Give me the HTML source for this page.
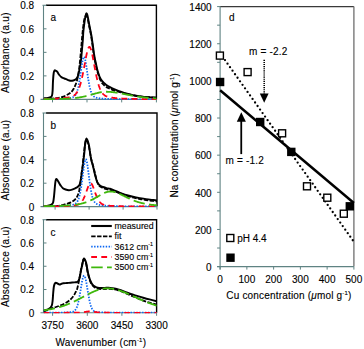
<!DOCTYPE html>
<html><head><meta charset="utf-8"><style>
html,body{margin:0;padding:0;background:#fff;}
svg{display:block;}
text{font-family:"Liberation Sans", sans-serif;fill:#000;stroke:#000;stroke-width:0.12px;}
</style></head><body>
<svg width="364" height="349" viewBox="0 0 364 349">
<rect width="364" height="349" fill="#fff"/>
<clipPath id="clipa"><rect x="43.5" y="4.3" width="112.9" height="95.6"/></clipPath>
<path d="M46 5.3H156.4V99.4" fill="none" stroke="#000" stroke-width="1.4"/>
<path d="M43.5 5.3V99.4" stroke="#5f8383" stroke-width="1.1"/>
<path d="M40.5 99.4H156.4" stroke="#5f8383" stroke-width="1.1"/>
<path d="M42.5 5.3H46.5" stroke="#5f8383" stroke-width="1.1"/>
<path d="M43.5 75.88H46.5" stroke="#5f8383" stroke-width="1"/>
<path d="M43.5 52.35H46.5" stroke="#5f8383" stroke-width="1"/>
<path d="M43.5 28.82H46.5" stroke="#5f8383" stroke-width="1"/>
<path d="M156.4 99.4V102.4" stroke="#5f8383" stroke-width="1"/>
<path d="M52.5 99.4V102.4" stroke="#5f8383" stroke-width="1"/>
<path d="M87 99.4V102.4" stroke="#5f8383" stroke-width="1"/>
<path d="M121.7 99.4V102.4" stroke="#5f8383" stroke-width="1"/>
<text x="34.2" y="103.3" font-size="10" text-anchor="end">0</text>
<text x="34.2" y="79.78" font-size="10" text-anchor="end">0.2</text>
<text x="34.2" y="56.25" font-size="10" text-anchor="end">0.4</text>
<text x="34.2" y="32.72" font-size="10" text-anchor="end">0.6</text>
<text x="34.2" y="9.2" font-size="10" text-anchor="end">0.8</text>
<text transform="translate(9.1 52.75) rotate(-90)" font-size="10" text-anchor="middle" textLength="80.5" lengthAdjust="spacing">Absorbance (a.u)</text>
<text x="50.4" y="21.2" font-size="10" text-anchor="start">a</text>
<g clip-path="url(#clipa)" fill="none">
<path d="M43.6 98.4C44.33 98.33 46.8 98.2 48 98C49.2 97.8 50.13 97.62 50.8 97.2C51.47 96.78 51.7 96.53 52 95.5C52.3 94.47 52.43 93.42 52.6 91C52.77 88.58 52.82 84 53 81C53.18 78 53.43 74.78 53.7 73C53.97 71.22 54.25 70.67 54.6 70.3C54.95 69.93 55.35 70.53 55.8 70.8C56.25 71.07 56.72 71.2 57.3 71.9C57.88 72.6 58.62 74.13 59.3 75C59.98 75.87 60.53 76.52 61.4 77.1C62.27 77.68 63.47 78.03 64.5 78.5C65.53 78.97 66.65 79.52 67.6 79.9C68.55 80.28 69.25 80.7 70.2 80.8C71.15 80.9 72.35 80.75 73.3 80.5C74.25 80.25 75.18 79.88 75.9 79.3C76.62 78.72 77.1 78.17 77.6 77C78.1 75.83 78.5 73.95 78.9 72.3C79.3 70.65 79.68 68.82 80 67.1C80.32 65.38 80.55 64.02 80.8 62C81.05 59.98 81.27 57.5 81.5 55C81.73 52.5 81.97 49.67 82.2 47C82.43 44.33 82.72 41.5 82.9 39C83.08 36.5 83.12 34.17 83.3 32C83.48 29.83 83.77 27.92 84 26C84.23 24.08 84.43 22.17 84.7 20.5C84.97 18.83 85.33 17.18 85.6 16C85.87 14.82 86.03 13.65 86.3 13.4C86.57 13.15 86.9 13.65 87.2 14.5C87.5 15.35 87.77 16.83 88.1 18.5C88.43 20.17 88.83 22.58 89.2 24.5C89.57 26.42 89.95 28.25 90.3 30C90.65 31.75 90.98 33.17 91.3 35C91.62 36.83 91.88 38.83 92.2 41C92.52 43.17 92.9 45.83 93.2 48C93.5 50.17 93.72 52.17 94 54C94.28 55.83 94.58 57.42 94.9 59C95.22 60.58 95.53 61.83 95.9 63.5C96.27 65.17 96.67 67.28 97.1 69C97.53 70.72 98.02 72.33 98.5 73.8C98.98 75.27 99.42 76.62 100 77.8C100.58 78.98 101.33 80.03 102 80.9C102.67 81.77 103.33 82.37 104 83C104.67 83.63 105 84 106 84.7C107 85.4 108.65 86.45 110 87.2C111.35 87.95 112.6 88.53 114.1 89.2C115.6 89.87 117.33 90.58 119 91.2C120.67 91.82 122.27 92.35 124.1 92.9C125.93 93.45 128 94.02 130 94.5C132 94.98 134.1 95.43 136.1 95.8C138.1 96.17 139.98 96.47 142 96.7C144.02 96.93 145.8 97.02 148.2 97.2C150.6 97.38 155.03 97.7 156.4 97.8" stroke="#000" stroke-width="1.95" stroke-linejoin="round"/>
<path d="M43.6 98.9C44.67 98.85 48.27 98.7 50 98.6C51.73 98.5 52.62 98.42 54 98.3C55.38 98.18 56.72 98.18 58.3 97.9C59.88 97.62 61.78 97.25 63.5 96.6C65.22 95.95 67.27 94.8 68.6 94C69.93 93.2 70.63 92.72 71.5 91.8C72.37 90.88 73.12 89.72 73.8 88.5C74.48 87.28 75.08 85.75 75.6 84.5C76.12 83.25 76.5 82.5 76.9 81C77.3 79.5 77.67 77.25 78 75.5C78.33 73.75 78.63 72.25 78.9 70.5C79.17 68.75 79.37 67.08 79.6 65C79.83 62.92 80.07 60.5 80.3 58C80.53 55.5 80.77 52.67 81 50C81.23 47.33 81.47 44.67 81.7 42C81.93 39.33 82.17 36.42 82.4 34C82.63 31.58 82.85 29.58 83.1 27.5C83.35 25.42 83.62 23.17 83.9 21.5C84.18 19.83 84.48 18.45 84.8 17.5C85.12 16.55 85.47 16.02 85.8 15.8C86.13 15.58 86.47 15.67 86.8 16.2C87.13 16.73 87.47 17.62 87.8 19C88.13 20.38 88.43 22.67 88.8 24.5C89.17 26.33 89.63 28.25 90 30C90.37 31.75 90.68 33.17 91 35C91.32 36.83 91.58 38.83 91.9 41C92.22 43.17 92.6 45.83 92.9 48C93.2 50.17 93.42 52.08 93.7 54C93.98 55.92 94.27 57.75 94.6 59.5C94.93 61.25 95.3 62.75 95.7 64.5C96.1 66.25 96.5 68.17 97 70C97.5 71.83 98.15 73.83 98.7 75.5C99.25 77.17 99.75 78.75 100.3 80C100.85 81.25 101.38 82.17 102 83C102.62 83.83 103.33 84.38 104 85C104.67 85.62 105.33 86.22 106 86.7C106.67 87.18 107.27 87.53 108 87.9C108.73 88.27 109.4 88.47 110.4 88.9C111.4 89.33 112.57 89.98 114 90.5C115.43 91.02 117.33 91.52 119 92C120.67 92.48 122.17 92.95 124 93.4C125.83 93.85 128 94.3 130 94.7C132 95.1 134 95.48 136 95.8C138 96.12 140 96.38 142 96.6C144 96.82 145.6 96.9 148 97.1C150.4 97.3 155 97.68 156.4 97.8" stroke="#000" stroke-width="1.8" stroke-dasharray="4.4 1.5"/>
<path d="M43.6 99.23 L44 99.22 L44.4 99.22 L44.8 99.22 L45.2 99.21 L45.6 99.21 L46 99.2 L46.4 99.2 L46.8 99.2 L47.2 99.19 L47.6 99.19 L48 99.18 L48.4 99.18 L48.8 99.17 L49.2 99.17 L49.6 99.16 L50 99.16 L50.4 99.15 L50.8 99.14 L51.2 99.14 L51.6 99.13 L52 99.12 L52.4 99.12 L52.8 99.11 L53.2 99.1 L53.6 99.1 L54 99.09 L54.4 99.08 L54.8 99.07 L55.2 99.06 L55.6 99.05 L56 99.04 L56.4 99.03 L56.8 99.02 L57.2 99.01 L57.6 99 L58 98.99 L58.4 98.97 L58.8 98.96 L59.2 98.95 L59.6 98.93 L60 98.92 L60.4 98.9 L60.8 98.88 L61.2 98.87 L61.6 98.85 L62 98.83 L62.4 98.81 L62.8 98.79 L63.2 98.76 L63.6 98.74 L64 98.71 L64.4 98.69 L64.8 98.66 L65.2 98.63 L65.6 98.59 L66 98.56 L66.4 98.52 L66.8 98.48 L67.2 98.44 L67.6 98.4 L68 98.35 L68.4 98.3 L68.8 98.24 L69.2 98.18 L69.6 98.12 L70 98.05 L70.4 97.97 L70.8 97.88 L71.2 97.79 L71.6 97.68 L72 97.55 L72.4 97.41 L72.8 97.24 L73.2 97.05 L73.6 96.81 L74 96.54 L74.4 96.2 L74.8 95.8 L75.2 95.31 L75.6 94.73 L76 94.03 L76.4 93.2 L76.8 92.22 L77.2 91.06 L77.6 89.72 L78 88.19 L78.4 86.45 L78.8 84.49 L79.2 82.34 L79.6 79.99 L80 77.47 L80.4 74.81 L80.8 72.07 L81.2 69.29 L81.6 66.57 L82 63.98 L82.4 61.63 L82.8 59.64 L83.2 58.11 L83.6 57.15 L84 56.82 L84.4 57.15 L84.8 58.11 L85.2 59.64 L85.6 61.63 L86 63.98 L86.4 66.57 L86.8 69.29 L87.2 72.07 L87.6 74.81 L88 77.47 L88.4 79.99 L88.8 82.34 L89.2 84.49 L89.6 86.45 L90 88.19 L90.4 89.72 L90.8 91.06 L91.2 92.22 L91.6 93.2 L92 94.03 L92.4 94.73 L92.8 95.31 L93.2 95.8 L93.6 96.2 L94 96.54 L94.4 96.81 L94.8 97.05 L95.2 97.24 L95.6 97.41 L96 97.55 L96.4 97.68 L96.8 97.79 L97.2 97.88 L97.6 97.97 L98 98.05 L98.4 98.12 L98.8 98.18 L99.2 98.24 L99.6 98.3 L100 98.35 L100.4 98.4 L100.8 98.44 L101.2 98.48 L101.6 98.52 L102 98.56 L102.4 98.59 L102.8 98.63 L103.2 98.66 L103.6 98.69 L104 98.71 L104.4 98.74 L104.8 98.76 L105.2 98.79 L105.6 98.81 L106 98.83 L106.4 98.85 L106.8 98.87 L107.2 98.88 L107.6 98.9 L108 98.92 L108.4 98.93 L108.8 98.95 L109.2 98.96 L109.6 98.97 L110 98.99 L110.4 99 L110.8 99.01 L111.2 99.02 L111.6 99.03 L112 99.04 L112.4 99.05 L112.8 99.06 L113.2 99.07 L113.6 99.08 L114 99.09 L114.4 99.1 L114.8 99.1 L115.2 99.11 L115.6 99.12 L116 99.12 L116.4 99.13 L116.8 99.14 L117.2 99.14 L117.6 99.15 L118 99.16 L118.4 99.16 L118.8 99.17 L119.2 99.17 L119.6 99.18 L120 99.18 L120.4 99.19 L120.8 99.19 L121.2 99.2 L121.6 99.2 L122 99.2 L122.4 99.21 L122.8 99.21 L123.2 99.22 L123.6 99.22 L124 99.22 L124.4 99.23 L124.8 99.23 L125.2 99.23 L125.6 99.24 L126 99.24 L126.4 99.24 L126.8 99.25 L127.2 99.25 L127.6 99.25 L128 99.25 L128.4 99.26 L128.8 99.26 L129.2 99.26 L129.6 99.26 L130 99.27 L130.4 99.27 L130.8 99.27 L131.2 99.27 L131.6 99.27 L132 99.28 L132.4 99.28 L132.8 99.28 L133.2 99.28 L133.6 99.28 L134 99.29 L134.4 99.29 L134.8 99.29 L135.2 99.29 L135.6 99.29 L136 99.29 L136.4 99.3 L136.8 99.3 L137.2 99.3 L137.6 99.3 L138 99.3 L138.4 99.3 L138.8 99.31 L139.2 99.31 L139.6 99.31 L140 99.31 L140.4 99.31 L140.8 99.31 L141.2 99.31 L141.6 99.31 L142 99.32 L142.4 99.32 L142.8 99.32 L143.2 99.32 L143.6 99.32 L144 99.32 L144.4 99.32 L144.8 99.32 L145.2 99.32 L145.6 99.32 L146 99.33 L146.4 99.33 L146.8 99.33 L147.2 99.33 L147.6 99.33 L148 99.33 L148.4 99.33 L148.8 99.33 L149.2 99.33 L149.6 99.33 L150 99.33 L150.4 99.34 L150.8 99.34 L151.2 99.34 L151.6 99.34 L152 99.34 L152.4 99.34 L152.8 99.34 L153.2 99.34 L153.6 99.34 L154 99.34 L154.4 99.34 L154.8 99.34 L155.2 99.34 L155.6 99.34 L156 99.34 L156.4 99.35 L156.8 99.35" stroke="#0a66f2" stroke-width="1.8" stroke-dasharray="1.45 1.45"/>
<path d="M43.6 98.95 L44 98.94 L44.4 98.93 L44.8 98.92 L45.2 98.92 L45.6 98.91 L46 98.9 L46.4 98.89 L46.8 98.88 L47.2 98.87 L47.6 98.86 L48 98.85 L48.4 98.84 L48.8 98.83 L49.2 98.82 L49.6 98.8 L50 98.79 L50.4 98.78 L50.8 98.77 L51.2 98.76 L51.6 98.74 L52 98.73 L52.4 98.71 L52.8 98.7 L53.2 98.68 L53.6 98.67 L54 98.65 L54.4 98.64 L54.8 98.62 L55.2 98.6 L55.6 98.58 L56 98.56 L56.4 98.54 L56.8 98.52 L57.2 98.5 L57.6 98.48 L58 98.46 L58.4 98.43 L58.8 98.41 L59.2 98.39 L59.6 98.36 L60 98.33 L60.4 98.3 L60.8 98.27 L61.2 98.24 L61.6 98.21 L62 98.18 L62.4 98.14 L62.8 98.11 L63.2 98.07 L63.6 98.03 L64 97.99 L64.4 97.95 L64.8 97.9 L65.2 97.86 L65.6 97.81 L66 97.75 L66.4 97.7 L66.8 97.64 L67.2 97.58 L67.6 97.52 L68 97.45 L68.4 97.38 L68.8 97.3 L69.2 97.22 L69.6 97.13 L70 97.03 L70.4 96.93 L70.8 96.82 L71.2 96.7 L71.6 96.56 L72 96.41 L72.4 96.25 L72.8 96.07 L73.2 95.87 L73.6 95.65 L74 95.4 L74.4 95.12 L74.8 94.81 L75.2 94.46 L75.6 94.07 L76 93.63 L76.4 93.14 L76.8 92.59 L77.2 91.98 L77.6 91.3 L78 90.54 L78.4 89.71 L78.8 88.78 L79.2 87.77 L79.6 86.66 L80 85.45 L80.4 84.14 L80.8 82.73 L81.2 81.22 L81.6 79.6 L82 77.88 L82.4 76.06 L82.8 74.15 L83.2 72.17 L83.6 70.11 L84 67.99 L84.4 65.84 L84.8 63.67 L85.2 61.49 L85.6 59.35 L86 57.26 L86.4 55.27 L86.8 53.4 L87.2 51.7 L87.6 50.21 L88 48.96 L88.4 47.99 L88.8 47.32 L89.2 46.98 L89.6 46.98 L90 47.32 L90.4 47.99 L90.8 48.96 L91.2 50.21 L91.6 51.7 L92 53.4 L92.4 55.27 L92.8 57.26 L93.2 59.35 L93.6 61.49 L94 63.67 L94.4 65.84 L94.8 67.99 L95.2 70.11 L95.6 72.17 L96 74.15 L96.4 76.06 L96.8 77.88 L97.2 79.6 L97.6 81.22 L98 82.73 L98.4 84.14 L98.8 85.45 L99.2 86.66 L99.6 87.77 L100 88.78 L100.4 89.71 L100.8 90.54 L101.2 91.3 L101.6 91.98 L102 92.59 L102.4 93.14 L102.8 93.63 L103.2 94.07 L103.6 94.46 L104 94.81 L104.4 95.12 L104.8 95.4 L105.2 95.65 L105.6 95.87 L106 96.07 L106.4 96.25 L106.8 96.41 L107.2 96.56 L107.6 96.7 L108 96.82 L108.4 96.93 L108.8 97.03 L109.2 97.13 L109.6 97.22 L110 97.3 L110.4 97.38 L110.8 97.45 L111.2 97.52 L111.6 97.58 L112 97.64 L112.4 97.7 L112.8 97.75 L113.2 97.81 L113.6 97.86 L114 97.9 L114.4 97.95 L114.8 97.99 L115.2 98.03 L115.6 98.07 L116 98.11 L116.4 98.14 L116.8 98.18 L117.2 98.21 L117.6 98.24 L118 98.27 L118.4 98.3 L118.8 98.33 L119.2 98.36 L119.6 98.39 L120 98.41 L120.4 98.43 L120.8 98.46 L121.2 98.48 L121.6 98.5 L122 98.52 L122.4 98.54 L122.8 98.56 L123.2 98.58 L123.6 98.6 L124 98.62 L124.4 98.64 L124.8 98.65 L125.2 98.67 L125.6 98.68 L126 98.7 L126.4 98.71 L126.8 98.73 L127.2 98.74 L127.6 98.76 L128 98.77 L128.4 98.78 L128.8 98.79 L129.2 98.8 L129.6 98.82 L130 98.83 L130.4 98.84 L130.8 98.85 L131.2 98.86 L131.6 98.87 L132 98.88 L132.4 98.89 L132.8 98.9 L133.2 98.91 L133.6 98.92 L134 98.92 L134.4 98.93 L134.8 98.94 L135.2 98.95 L135.6 98.96 L136 98.96 L136.4 98.97 L136.8 98.98 L137.2 98.98 L137.6 98.99 L138 99 L138.4 99 L138.8 99.01 L139.2 99.02 L139.6 99.02 L140 99.03 L140.4 99.03 L140.8 99.04 L141.2 99.05 L141.6 99.05 L142 99.06 L142.4 99.06 L142.8 99.07 L143.2 99.07 L143.6 99.08 L144 99.08 L144.4 99.08 L144.8 99.09 L145.2 99.09 L145.6 99.1 L146 99.1 L146.4 99.11 L146.8 99.11 L147.2 99.11 L147.6 99.12 L148 99.12 L148.4 99.13 L148.8 99.13 L149.2 99.13 L149.6 99.14 L150 99.14 L150.4 99.14 L150.8 99.15 L151.2 99.15 L151.6 99.15 L152 99.16 L152.4 99.16 L152.8 99.16 L153.2 99.16 L153.6 99.17 L154 99.17 L154.4 99.17 L154.8 99.18 L155.2 99.18 L155.6 99.18 L156 99.18 L156.4 99.19 L156.8 99.19" stroke="#ff0018" stroke-width="1.8" stroke-dasharray="5.8 4.3"/>
<path d="M43.6 99.16 L44 99.16 L44.4 99.16 L44.8 99.15 L45.2 99.15 L45.6 99.15 L46 99.15 L46.4 99.14 L46.8 99.14 L47.2 99.14 L47.6 99.13 L48 99.13 L48.4 99.12 L48.8 99.12 L49.2 99.12 L49.6 99.11 L50 99.11 L50.4 99.1 L50.8 99.1 L51.2 99.09 L51.6 99.09 L52 99.09 L52.4 99.08 L52.8 99.08 L53.2 99.07 L53.6 99.06 L54 99.06 L54.4 99.05 L54.8 99.05 L55.2 99.04 L55.6 99.03 L56 99.03 L56.4 99.02 L56.8 99.01 L57.2 99.01 L57.6 99 L58 98.99 L58.4 98.98 L58.8 98.97 L59.2 98.96 L59.6 98.95 L60 98.94 L60.4 98.93 L60.8 98.92 L61.2 98.91 L61.6 98.9 L62 98.89 L62.4 98.88 L62.8 98.86 L63.2 98.85 L63.6 98.83 L64 98.82 L64.4 98.8 L64.8 98.79 L65.2 98.77 L65.6 98.75 L66 98.74 L66.4 98.72 L66.8 98.7 L67.2 98.68 L67.6 98.65 L68 98.63 L68.4 98.61 L68.8 98.58 L69.2 98.56 L69.6 98.53 L70 98.5 L70.4 98.47 L70.8 98.44 L71.2 98.41 L71.6 98.38 L72 98.34 L72.4 98.31 L72.8 98.27 L73.2 98.23 L73.6 98.19 L74 98.15 L74.4 98.11 L74.8 98.06 L75.2 98.02 L75.6 97.97 L76 97.92 L76.4 97.87 L76.8 97.82 L77.2 97.76 L77.6 97.71 L78 97.65 L78.4 97.59 L78.8 97.53 L79.2 97.46 L79.6 97.4 L80 97.33 L80.4 97.26 L80.8 97.19 L81.2 97.11 L81.6 97.04 L82 96.96 L82.4 96.88 L82.8 96.8 L83.2 96.72 L83.6 96.63 L84 96.54 L84.4 96.46 L84.8 96.37 L85.2 96.27 L85.6 96.18 L86 96.08 L86.4 95.98 L86.8 95.88 L87.2 95.78 L87.6 95.68 L88 95.58 L88.4 95.47 L88.8 95.37 L89.2 95.26 L89.6 95.15 L90 95.04 L90.4 94.93 L90.8 94.82 L91.2 94.7 L91.6 94.59 L92 94.48 L92.4 94.36 L92.8 94.25 L93.2 94.14 L93.6 94.02 L94 93.91 L94.4 93.8 L94.8 93.69 L95.2 93.58 L95.6 93.47 L96 93.36 L96.4 93.25 L96.8 93.15 L97.2 93.04 L97.6 92.94 L98 92.85 L98.4 92.75 L98.8 92.66 L99.2 92.57 L99.6 92.48 L100 92.4 L100.4 92.32 L100.8 92.25 L101.2 92.18 L101.6 92.11 L102 92.05 L102.4 92 L102.8 91.95 L103.2 91.9 L103.6 91.86 L104 91.83 L104.4 91.8 L104.8 91.78 L105.2 91.77 L105.6 91.76 L106 91.75 L106.4 91.76 L106.8 91.76 L107.2 91.77 L107.6 91.78 L108 91.79 L108.4 91.81 L108.8 91.83 L109.2 91.85 L109.6 91.87 L110 91.9 L110.4 91.93 L110.8 91.96 L111.2 92 L111.6 92.04 L112 92.08 L112.4 92.12 L112.8 92.16 L113.2 92.21 L113.6 92.26 L114 92.31 L114.4 92.36 L114.8 92.42 L115.2 92.48 L115.6 92.53 L116 92.6 L116.4 92.66 L116.8 92.72 L117.2 92.79 L117.6 92.85 L118 92.92 L118.4 92.99 L118.8 93.06 L119.2 93.13 L119.6 93.2 L120 93.28 L120.4 93.35 L120.8 93.43 L121.2 93.5 L121.6 93.58 L122 93.65 L122.4 93.73 L122.8 93.81 L123.2 93.89 L123.6 93.96 L124 94.04 L124.4 94.12 L124.8 94.2 L125.2 94.28 L125.6 94.36 L126 94.43 L126.4 94.51 L126.8 94.59 L127.2 94.67 L127.6 94.75 L128 94.83 L128.4 94.9 L128.8 94.98 L129.2 95.06 L129.6 95.13 L130 95.21 L130.4 95.28 L130.8 95.36 L131.2 95.43 L131.6 95.5 L132 95.58 L132.4 95.65 L132.8 95.72 L133.2 95.79 L133.6 95.86 L134 95.93 L134.4 96 L134.8 96.07 L135.2 96.13 L135.6 96.2 L136 96.27 L136.4 96.33 L136.8 96.39 L137.2 96.46 L137.6 96.52 L138 96.58 L138.4 96.64 L138.8 96.7 L139.2 96.76 L139.6 96.81 L140 96.87 L140.4 96.92 L140.8 96.98 L141.2 97.03 L141.6 97.09 L142 97.14 L142.4 97.19 L142.8 97.24 L143.2 97.29 L143.6 97.33 L144 97.38 L144.4 97.43 L144.8 97.47 L145.2 97.52 L145.6 97.56 L146 97.6 L146.4 97.64 L146.8 97.68 L147.2 97.72 L147.6 97.76 L148 97.8 L148.4 97.84 L148.8 97.87 L149.2 97.91 L149.6 97.94 L150 97.98 L150.4 98.01 L150.8 98.04 L151.2 98.08 L151.6 98.11 L152 98.14 L152.4 98.16 L152.8 98.19 L153.2 98.22 L153.6 98.25 L154 98.27 L154.4 98.3 L154.8 98.32 L155.2 98.35 L155.6 98.37 L156 98.4 L156.4 98.42 L156.8 98.44" stroke="#3fb80c" stroke-width="1.8" stroke-dasharray="11.5 4.3"/>
</g>
<clipPath id="clipb"><rect x="43.5" y="112" width="113.5" height="95.1"/></clipPath>
<path d="M46 113H157V206.6" fill="none" stroke="#000" stroke-width="1.4"/>
<path d="M43.5 113V206.6" stroke="#5f8383" stroke-width="1.1"/>
<path d="M40.5 206.6H157" stroke="#5f8383" stroke-width="1.1"/>
<path d="M42.5 113H46.5" stroke="#5f8383" stroke-width="1.1"/>
<path d="M43.5 183.2H46.5" stroke="#5f8383" stroke-width="1"/>
<path d="M43.5 159.8H46.5" stroke="#5f8383" stroke-width="1"/>
<path d="M43.5 136.4H46.5" stroke="#5f8383" stroke-width="1"/>
<path d="M157 206.6V209.6" stroke="#5f8383" stroke-width="1"/>
<path d="M55.1 206.6V209.6" stroke="#5f8383" stroke-width="1"/>
<path d="M89.1 206.6V209.6" stroke="#5f8383" stroke-width="1"/>
<path d="M123.1 206.6V209.6" stroke="#5f8383" stroke-width="1"/>
<text x="34.2" y="210.5" font-size="10" text-anchor="end">0</text>
<text x="34.2" y="187.1" font-size="10" text-anchor="end">0.2</text>
<text x="34.2" y="163.7" font-size="10" text-anchor="end">0.4</text>
<text x="34.2" y="140.3" font-size="10" text-anchor="end">0.6</text>
<text x="34.2" y="116.9" font-size="10" text-anchor="end">0.8</text>
<text transform="translate(9.1 160.2) rotate(-90)" font-size="10" text-anchor="middle" textLength="80.5" lengthAdjust="spacing">Absorbance (a.u)</text>
<text x="50.4" y="128.9" font-size="10" text-anchor="start">b</text>
<g clip-path="url(#clipb)" fill="none">
<path d="M43.6 206C44.33 205.93 46.7 205.83 48 205.6C49.3 205.37 50.55 205.12 51.4 204.6C52.25 204.08 52.65 204.02 53.1 202.5C53.55 200.98 53.8 198.17 54.1 195.5C54.4 192.83 54.65 188.98 54.9 186.5C55.15 184.02 55.37 181.87 55.6 180.6C55.83 179.33 56 178.98 56.3 178.9C56.6 178.82 56.93 179.42 57.4 180.1C57.87 180.78 58.55 182.08 59.1 183C59.65 183.92 60.07 184.73 60.7 185.6C61.33 186.47 62.08 187.55 62.9 188.2C63.72 188.85 64.62 189.17 65.6 189.5C66.58 189.83 67.72 190.18 68.8 190.2C69.88 190.22 71 189.93 72.1 189.6C73.2 189.27 74.5 188.63 75.4 188.2C76.3 187.77 76.9 187.43 77.5 187C78.1 186.57 78.62 186.1 79 185.6C79.38 185.1 79.57 184.68 79.8 184C80.03 183.32 80.23 182.25 80.4 181.5C80.57 180.75 80.63 180.42 80.8 179.5C80.97 178.58 81.22 177.25 81.4 176C81.58 174.75 81.73 173.2 81.9 172C82.07 170.8 82.22 169.97 82.4 168.8C82.58 167.63 82.82 166.47 83 165C83.18 163.53 83.32 161.67 83.5 160C83.68 158.33 83.92 156.67 84.1 155C84.28 153.33 84.45 151.58 84.6 150C84.75 148.42 84.83 147 85 145.5C85.17 144 85.35 142.18 85.6 141C85.85 139.82 86.17 138.48 86.5 138.4C86.83 138.32 87.2 139.4 87.6 140.5C88 141.6 88.58 143.58 88.9 145C89.22 146.42 89.25 147.33 89.5 149C89.75 150.67 90.1 153.17 90.4 155C90.7 156.83 90.92 158.33 91.3 160C91.68 161.67 92.27 163.33 92.7 165C93.13 166.67 93.47 168.22 93.9 170C94.33 171.78 94.78 173.78 95.3 175.7C95.82 177.62 96.38 180 97 181.5C97.62 183 98.37 183.95 99 184.7C99.63 185.45 100.13 185.62 100.8 186C101.47 186.38 102.05 186.65 103 187C103.95 187.35 105.33 187.8 106.5 188.1C107.67 188.4 108.75 188.43 110 188.8C111.25 189.17 112.67 189.78 114 190.3C115.33 190.82 116.67 191.35 118 191.9C119.33 192.45 120.33 193 122 193.6C123.67 194.2 126 194.93 128 195.5C130 196.07 132 196.57 134 197C136 197.43 138 197.75 140 198.1C142 198.45 144 198.8 146 199.1C148 199.4 150.17 199.67 152 199.9C153.83 200.13 156.17 200.4 157 200.5" stroke="#000" stroke-width="1.95" stroke-linejoin="round"/>
<path d="M43.6 206.3C44.67 206.28 48.1 206.25 50 206.2C51.9 206.15 53.33 206.08 55 206C56.67 205.92 58.27 206 60 205.7C61.73 205.4 63.58 204.75 65.4 204.2C67.22 203.65 69.27 203.22 70.9 202.4C72.53 201.58 74.12 200.35 75.2 199.3C76.28 198.25 76.77 197.37 77.4 196.1C78.03 194.83 78.62 193.13 79 191.7C79.38 190.27 79.5 188.62 79.7 187.5C79.9 186.38 80.02 186.08 80.2 185C80.38 183.92 80.62 182.42 80.8 181C80.98 179.58 81.15 178 81.3 176.5C81.45 175 81.55 173.25 81.7 172C81.85 170.75 82.03 170.17 82.2 169C82.37 167.83 82.53 166.5 82.7 165C82.87 163.5 83.02 161.67 83.2 160C83.38 158.33 83.62 156.67 83.8 155C83.98 153.33 84.13 151.5 84.3 150C84.47 148.5 84.6 147.33 84.8 146C85 144.67 85.22 143 85.5 142C85.78 141 86.15 140.03 86.5 140C86.85 139.97 87.22 140.8 87.6 141.8C87.98 142.8 88.47 144.63 88.8 146C89.13 147.37 89.32 148.42 89.6 150C89.88 151.58 90.17 153.75 90.5 155.5C90.83 157.25 91.18 158.83 91.6 160.5C92.02 162.17 92.55 163.83 93 165.5C93.45 167.17 93.85 168.67 94.3 170.5C94.75 172.33 95.2 174.53 95.7 176.5C96.2 178.47 96.72 180.75 97.3 182.3C97.88 183.85 98.58 185.02 99.2 185.8C99.82 186.58 100.37 186.63 101 187C101.63 187.37 102.08 187.63 103 188C103.92 188.37 105.33 188.87 106.5 189.2C107.67 189.53 108.75 189.65 110 190C111.25 190.35 112.67 190.87 114 191.3C115.33 191.73 116.67 192.13 118 192.6C119.33 193.07 120.33 193.52 122 194.1C123.67 194.68 126 195.5 128 196.1C130 196.7 132 197.22 134 197.7C136 198.18 138 198.62 140 199C142 199.38 144 199.7 146 200C148 200.3 150.17 200.57 152 200.8C153.83 201.03 156.17 201.3 157 201.4" stroke="#000" stroke-width="1.8" stroke-dasharray="4.4 1.5"/>
<path d="M43.6 206.41 L44 206.41 L44.4 206.4 L44.8 206.4 L45.2 206.4 L45.6 206.39 L46 206.39 L46.4 206.38 L46.8 206.38 L47.2 206.37 L47.6 206.37 L48 206.36 L48.4 206.36 L48.8 206.35 L49.2 206.35 L49.6 206.34 L50 206.34 L50.4 206.33 L50.8 206.33 L51.2 206.32 L51.6 206.31 L52 206.31 L52.4 206.3 L52.8 206.29 L53.2 206.28 L53.6 206.28 L54 206.27 L54.4 206.26 L54.8 206.25 L55.2 206.24 L55.6 206.23 L56 206.22 L56.4 206.21 L56.8 206.2 L57.2 206.19 L57.6 206.18 L58 206.17 L58.4 206.16 L58.8 206.14 L59.2 206.13 L59.6 206.11 L60 206.1 L60.4 206.08 L60.8 206.07 L61.2 206.05 L61.6 206.03 L62 206.01 L62.4 205.99 L62.8 205.97 L63.2 205.95 L63.6 205.93 L64 205.91 L64.4 205.88 L64.8 205.85 L65.2 205.83 L65.6 205.8 L66 205.76 L66.4 205.73 L66.8 205.7 L67.2 205.66 L67.6 205.62 L68 205.57 L68.4 205.53 L68.8 205.48 L69.2 205.43 L69.6 205.37 L70 205.32 L70.4 205.25 L70.8 205.18 L71.2 205.11 L71.6 205.03 L72 204.94 L72.4 204.84 L72.8 204.74 L73.2 204.62 L73.6 204.49 L74 204.34 L74.4 204.17 L74.8 203.97 L75.2 203.74 L75.6 203.47 L76 203.15 L76.4 202.76 L76.8 202.3 L77.2 201.75 L77.6 201.09 L78 200.29 L78.4 199.35 L78.8 198.23 L79.2 196.92 L79.6 195.4 L80 193.66 L80.4 191.68 L80.8 189.46 L81.2 187 L81.6 184.32 L82 181.45 L82.4 178.43 L82.8 175.31 L83.2 172.16 L83.6 169.1 L84 166.22 L84.4 163.66 L84.8 161.57 L85.2 160.09 L85.6 159.31 L86 159.31 L86.4 160.09 L86.8 161.57 L87.2 163.66 L87.6 166.22 L88 169.1 L88.4 172.16 L88.8 175.31 L89.2 178.43 L89.6 181.45 L90 184.32 L90.4 187 L90.8 189.46 L91.2 191.68 L91.6 193.66 L92 195.4 L92.4 196.92 L92.8 198.23 L93.2 199.35 L93.6 200.29 L94 201.09 L94.4 201.75 L94.8 202.3 L95.2 202.76 L95.6 203.15 L96 203.47 L96.4 203.74 L96.8 203.97 L97.2 204.17 L97.6 204.34 L98 204.49 L98.4 204.62 L98.8 204.74 L99.2 204.84 L99.6 204.94 L100 205.03 L100.4 205.11 L100.8 205.18 L101.2 205.25 L101.6 205.32 L102 205.37 L102.4 205.43 L102.8 205.48 L103.2 205.53 L103.6 205.57 L104 205.62 L104.4 205.66 L104.8 205.7 L105.2 205.73 L105.6 205.76 L106 205.8 L106.4 205.83 L106.8 205.85 L107.2 205.88 L107.6 205.91 L108 205.93 L108.4 205.95 L108.8 205.97 L109.2 205.99 L109.6 206.01 L110 206.03 L110.4 206.05 L110.8 206.07 L111.2 206.08 L111.6 206.1 L112 206.11 L112.4 206.13 L112.8 206.14 L113.2 206.16 L113.6 206.17 L114 206.18 L114.4 206.19 L114.8 206.2 L115.2 206.21 L115.6 206.22 L116 206.23 L116.4 206.24 L116.8 206.25 L117.2 206.26 L117.6 206.27 L118 206.28 L118.4 206.28 L118.8 206.29 L119.2 206.3 L119.6 206.31 L120 206.31 L120.4 206.32 L120.8 206.33 L121.2 206.33 L121.6 206.34 L122 206.34 L122.4 206.35 L122.8 206.35 L123.2 206.36 L123.6 206.36 L124 206.37 L124.4 206.37 L124.8 206.38 L125.2 206.38 L125.6 206.39 L126 206.39 L126.4 206.4 L126.8 206.4 L127.2 206.4 L127.6 206.41 L128 206.41 L128.4 206.41 L128.8 206.42 L129.2 206.42 L129.6 206.42 L130 206.43 L130.4 206.43 L130.8 206.43 L131.2 206.44 L131.6 206.44 L132 206.44 L132.4 206.44 L132.8 206.45 L133.2 206.45 L133.6 206.45 L134 206.45 L134.4 206.46 L134.8 206.46 L135.2 206.46 L135.6 206.46 L136 206.47 L136.4 206.47 L136.8 206.47 L137.2 206.47 L137.6 206.47 L138 206.48 L138.4 206.48 L138.8 206.48 L139.2 206.48 L139.6 206.48 L140 206.48 L140.4 206.49 L140.8 206.49 L141.2 206.49 L141.6 206.49 L142 206.49 L142.4 206.49 L142.8 206.5 L143.2 206.5 L143.6 206.5 L144 206.5 L144.4 206.5 L144.8 206.5 L145.2 206.5 L145.6 206.51 L146 206.51 L146.4 206.51 L146.8 206.51 L147.2 206.51 L147.6 206.51 L148 206.51 L148.4 206.51 L148.8 206.51 L149.2 206.52 L149.6 206.52 L150 206.52 L150.4 206.52 L150.8 206.52 L151.2 206.52 L151.6 206.52 L152 206.52 L152.4 206.52 L152.8 206.52 L153.2 206.53 L153.6 206.53 L154 206.53 L154.4 206.53 L154.8 206.53 L155.2 206.53 L155.6 206.53 L156 206.53 L156.4 206.53 L156.8 206.53" stroke="#0a66f2" stroke-width="1.8" stroke-dasharray="1.45 1.45"/>
<path d="M43.6 206.45 L44 206.44 L44.4 206.44 L44.8 206.44 L45.2 206.44 L45.6 206.43 L46 206.43 L46.4 206.43 L46.8 206.42 L47.2 206.42 L47.6 206.42 L48 206.41 L48.4 206.41 L48.8 206.41 L49.2 206.4 L49.6 206.4 L50 206.4 L50.4 206.39 L50.8 206.39 L51.2 206.38 L51.6 206.38 L52 206.38 L52.4 206.37 L52.8 206.37 L53.2 206.36 L53.6 206.36 L54 206.35 L54.4 206.35 L54.8 206.34 L55.2 206.33 L55.6 206.33 L56 206.32 L56.4 206.32 L56.8 206.31 L57.2 206.3 L57.6 206.29 L58 206.29 L58.4 206.28 L58.8 206.27 L59.2 206.26 L59.6 206.26 L60 206.25 L60.4 206.24 L60.8 206.23 L61.2 206.22 L61.6 206.21 L62 206.2 L62.4 206.19 L62.8 206.17 L63.2 206.16 L63.6 206.15 L64 206.14 L64.4 206.12 L64.8 206.11 L65.2 206.09 L65.6 206.08 L66 206.06 L66.4 206.05 L66.8 206.03 L67.2 206.01 L67.6 205.99 L68 205.97 L68.4 205.95 L68.8 205.92 L69.2 205.9 L69.6 205.87 L70 205.85 L70.4 205.82 L70.8 205.79 L71.2 205.76 L71.6 205.72 L72 205.69 L72.4 205.65 L72.8 205.61 L73.2 205.56 L73.6 205.52 L74 205.46 L74.4 205.41 L74.8 205.35 L75.2 205.28 L75.6 205.2 L76 205.12 L76.4 205.02 L76.8 204.92 L77.2 204.8 L77.6 204.67 L78 204.52 L78.4 204.34 L78.8 204.15 L79.2 203.92 L79.6 203.67 L80 203.38 L80.4 203.05 L80.8 202.68 L81.2 202.26 L81.6 201.8 L82 201.27 L82.4 200.69 L82.8 200.05 L83.2 199.35 L83.6 198.58 L84 197.75 L84.4 196.86 L84.8 195.91 L85.2 194.9 L85.6 193.84 L86 192.74 L86.4 191.62 L86.8 190.47 L87.2 189.33 L87.6 188.21 L88 187.14 L88.4 186.14 L88.8 185.24 L89.2 184.47 L89.6 183.86 L90 183.44 L90.4 183.23 L90.8 183.23 L91.2 183.44 L91.6 183.86 L92 184.47 L92.4 185.24 L92.8 186.14 L93.2 187.14 L93.6 188.21 L94 189.33 L94.4 190.47 L94.8 191.62 L95.2 192.74 L95.6 193.84 L96 194.9 L96.4 195.91 L96.8 196.86 L97.2 197.75 L97.6 198.58 L98 199.35 L98.4 200.05 L98.8 200.69 L99.2 201.27 L99.6 201.8 L100 202.26 L100.4 202.68 L100.8 203.05 L101.2 203.38 L101.6 203.67 L102 203.92 L102.4 204.15 L102.8 204.34 L103.2 204.52 L103.6 204.67 L104 204.8 L104.4 204.92 L104.8 205.02 L105.2 205.12 L105.6 205.2 L106 205.28 L106.4 205.35 L106.8 205.41 L107.2 205.46 L107.6 205.52 L108 205.56 L108.4 205.61 L108.8 205.65 L109.2 205.69 L109.6 205.72 L110 205.76 L110.4 205.79 L110.8 205.82 L111.2 205.85 L111.6 205.87 L112 205.9 L112.4 205.92 L112.8 205.95 L113.2 205.97 L113.6 205.99 L114 206.01 L114.4 206.03 L114.8 206.05 L115.2 206.06 L115.6 206.08 L116 206.09 L116.4 206.11 L116.8 206.12 L117.2 206.14 L117.6 206.15 L118 206.16 L118.4 206.17 L118.8 206.19 L119.2 206.2 L119.6 206.21 L120 206.22 L120.4 206.23 L120.8 206.24 L121.2 206.25 L121.6 206.26 L122 206.26 L122.4 206.27 L122.8 206.28 L123.2 206.29 L123.6 206.29 L124 206.3 L124.4 206.31 L124.8 206.32 L125.2 206.32 L125.6 206.33 L126 206.33 L126.4 206.34 L126.8 206.35 L127.2 206.35 L127.6 206.36 L128 206.36 L128.4 206.37 L128.8 206.37 L129.2 206.38 L129.6 206.38 L130 206.38 L130.4 206.39 L130.8 206.39 L131.2 206.4 L131.6 206.4 L132 206.4 L132.4 206.41 L132.8 206.41 L133.2 206.41 L133.6 206.42 L134 206.42 L134.4 206.42 L134.8 206.43 L135.2 206.43 L135.6 206.43 L136 206.44 L136.4 206.44 L136.8 206.44 L137.2 206.44 L137.6 206.45 L138 206.45 L138.4 206.45 L138.8 206.45 L139.2 206.46 L139.6 206.46 L140 206.46 L140.4 206.46 L140.8 206.47 L141.2 206.47 L141.6 206.47 L142 206.47 L142.4 206.47 L142.8 206.48 L143.2 206.48 L143.6 206.48 L144 206.48 L144.4 206.48 L144.8 206.49 L145.2 206.49 L145.6 206.49 L146 206.49 L146.4 206.49 L146.8 206.49 L147.2 206.49 L147.6 206.5 L148 206.5 L148.4 206.5 L148.8 206.5 L149.2 206.5 L149.6 206.5 L150 206.5 L150.4 206.51 L150.8 206.51 L151.2 206.51 L151.6 206.51 L152 206.51 L152.4 206.51 L152.8 206.51 L153.2 206.51 L153.6 206.51 L154 206.52 L154.4 206.52 L154.8 206.52 L155.2 206.52 L155.6 206.52 L156 206.52 L156.4 206.52 L156.8 206.52" stroke="#ff0018" stroke-width="1.8" stroke-dasharray="5.8 4.3"/>
<path d="M43.6 206.14 L44 206.13 L44.4 206.13 L44.8 206.12 L45.2 206.12 L45.6 206.11 L46 206.11 L46.4 206.1 L46.8 206.09 L47.2 206.09 L47.6 206.08 L48 206.08 L48.4 206.07 L48.8 206.06 L49.2 206.06 L49.6 206.05 L50 206.04 L50.4 206.04 L50.8 206.03 L51.2 206.02 L51.6 206.01 L52 206.01 L52.4 206 L52.8 205.99 L53.2 205.98 L53.6 205.97 L54 205.97 L54.4 205.96 L54.8 205.95 L55.2 205.94 L55.6 205.93 L56 205.92 L56.4 205.91 L56.8 205.9 L57.2 205.89 L57.6 205.88 L58 205.87 L58.4 205.86 L58.8 205.85 L59.2 205.83 L59.6 205.82 L60 205.81 L60.4 205.8 L60.8 205.78 L61.2 205.77 L61.6 205.75 L62 205.74 L62.4 205.73 L62.8 205.71 L63.2 205.69 L63.6 205.68 L64 205.66 L64.4 205.64 L64.8 205.62 L65.2 205.6 L65.6 205.58 L66 205.56 L66.4 205.54 L66.8 205.52 L67.2 205.5 L67.6 205.47 L68 205.45 L68.4 205.42 L68.8 205.39 L69.2 205.37 L69.6 205.34 L70 205.31 L70.4 205.27 L70.8 205.24 L71.2 205.21 L71.6 205.17 L72 205.13 L72.4 205.1 L72.8 205.05 L73.2 205.01 L73.6 204.97 L74 204.92 L74.4 204.87 L74.8 204.82 L75.2 204.77 L75.6 204.72 L76 204.66 L76.4 204.6 L76.8 204.54 L77.2 204.48 L77.6 204.41 L78 204.34 L78.4 204.27 L78.8 204.2 L79.2 204.12 L79.6 204.04 L80 203.96 L80.4 203.87 L80.8 203.78 L81.2 203.69 L81.6 203.59 L82 203.49 L82.4 203.39 L82.8 203.28 L83.2 203.17 L83.6 203.06 L84 202.94 L84.4 202.82 L84.8 202.69 L85.2 202.56 L85.6 202.43 L86 202.29 L86.4 202.15 L86.8 202 L87.2 201.85 L87.6 201.7 L88 201.54 L88.4 201.37 L88.8 201.21 L89.2 201.04 L89.6 200.86 L90 200.68 L90.4 200.5 L90.8 200.31 L91.2 200.12 L91.6 199.92 L92 199.72 L92.4 199.52 L92.8 199.32 L93.2 199.11 L93.6 198.89 L94 198.68 L94.4 198.46 L94.8 198.24 L95.2 198.01 L95.6 197.79 L96 197.56 L96.4 197.33 L96.8 197.1 L97.2 196.86 L97.6 196.63 L98 196.4 L98.4 196.16 L98.8 195.93 L99.2 195.69 L99.6 195.46 L100 195.23 L100.4 195 L100.8 194.77 L101.2 194.55 L101.6 194.33 L102 194.11 L102.4 193.9 L102.8 193.69 L103.2 193.49 L103.6 193.29 L104 193.1 L104.4 192.92 L104.8 192.75 L105.2 192.59 L105.6 192.43 L106 192.29 L106.4 192.15 L106.8 192.03 L107.2 191.92 L107.6 191.82 L108 191.74 L108.4 191.67 L108.8 191.61 L109.2 191.56 L109.6 191.53 L110 191.51 L110.4 191.51 L110.8 191.51 L111.2 191.53 L111.6 191.56 L112 191.6 L112.4 191.65 L112.8 191.7 L113.2 191.77 L113.6 191.85 L114 191.93 L114.4 192.03 L114.8 192.13 L115.2 192.24 L115.6 192.36 L116 192.49 L116.4 192.62 L116.8 192.76 L117.2 192.91 L117.6 193.06 L118 193.22 L118.4 193.38 L118.8 193.55 L119.2 193.72 L119.6 193.9 L120 194.08 L120.4 194.26 L120.8 194.45 L121.2 194.64 L121.6 194.83 L122 195.02 L122.4 195.22 L122.8 195.42 L123.2 195.61 L123.6 195.81 L124 196.01 L124.4 196.21 L124.8 196.41 L125.2 196.61 L125.6 196.81 L126 197.01 L126.4 197.21 L126.8 197.4 L127.2 197.6 L127.6 197.79 L128 197.98 L128.4 198.17 L128.8 198.36 L129.2 198.55 L129.6 198.73 L130 198.92 L130.4 199.1 L130.8 199.28 L131.2 199.45 L131.6 199.63 L132 199.8 L132.4 199.96 L132.8 200.13 L133.2 200.29 L133.6 200.45 L134 200.61 L134.4 200.76 L134.8 200.92 L135.2 201.06 L135.6 201.21 L136 201.35 L136.4 201.49 L136.8 201.63 L137.2 201.76 L137.6 201.89 L138 202.02 L138.4 202.14 L138.8 202.26 L139.2 202.38 L139.6 202.5 L140 202.61 L140.4 202.72 L140.8 202.83 L141.2 202.93 L141.6 203.03 L142 203.13 L142.4 203.22 L142.8 203.32 L143.2 203.41 L143.6 203.49 L144 203.58 L144.4 203.66 L144.8 203.74 L145.2 203.82 L145.6 203.9 L146 203.97 L146.4 204.04 L146.8 204.11 L147.2 204.17 L147.6 204.24 L148 204.3 L148.4 204.36 L148.8 204.42 L149.2 204.47 L149.6 204.53 L150 204.58 L150.4 204.63 L150.8 204.68 L151.2 204.73 L151.6 204.77 L152 204.82 L152.4 204.86 L152.8 204.9 L153.2 204.94 L153.6 204.98 L154 205.02 L154.4 205.05 L154.8 205.09 L155.2 205.12 L155.6 205.15 L156 205.18 L156.4 205.21 L156.8 205.24" stroke="#3fb80c" stroke-width="1.8" stroke-dasharray="11.5 4.3"/>
</g>
<clipPath id="clipc"><rect x="43.5" y="218.7" width="113.1" height="94.6"/></clipPath>
<path d="M46 219.7H156.6V312.8" fill="none" stroke="#000" stroke-width="1.4"/>
<path d="M43.5 219.7V312.8" stroke="#5f8383" stroke-width="1.1"/>
<path d="M40.5 312.8H156.6" stroke="#5f8383" stroke-width="1.1"/>
<path d="M42.5 219.7H46.5" stroke="#5f8383" stroke-width="1.1"/>
<path d="M43.5 289.52H46.5" stroke="#5f8383" stroke-width="1"/>
<path d="M43.5 266.25H46.5" stroke="#5f8383" stroke-width="1"/>
<path d="M43.5 242.97H46.5" stroke="#5f8383" stroke-width="1"/>
<path d="M156.6 312.8V315.8" stroke="#5f8383" stroke-width="1"/>
<path d="M52.6 312.8V315.8" stroke="#5f8383" stroke-width="1"/>
<path d="M87.3 312.8V315.8" stroke="#5f8383" stroke-width="1"/>
<path d="M121.9 312.8V315.8" stroke="#5f8383" stroke-width="1"/>
<text x="34.2" y="316.7" font-size="10" text-anchor="end">0</text>
<text x="34.2" y="293.42" font-size="10" text-anchor="end">0.2</text>
<text x="34.2" y="270.15" font-size="10" text-anchor="end">0.4</text>
<text x="34.2" y="246.87" font-size="10" text-anchor="end">0.6</text>
<text x="34.2" y="223.6" font-size="10" text-anchor="end">0.8</text>
<text transform="translate(9.1 266.65) rotate(-90)" font-size="10" text-anchor="middle" textLength="80.5" lengthAdjust="spacing">Absorbance (a.u)</text>
<text x="50.4" y="235.6" font-size="10" text-anchor="start">c</text>
<g clip-path="url(#clipc)" fill="none">
<path d="M43.6 310.6C44 310.5 45.18 310.27 46 310C46.82 309.73 47.75 309.4 48.5 309C49.25 308.6 49.95 308.18 50.5 307.6C51.05 307.02 51.45 306.6 51.8 305.5C52.15 304.4 52.37 303.08 52.6 301C52.83 298.92 53 295.33 53.2 293C53.4 290.67 53.57 288.5 53.8 287C54.03 285.5 54.27 284.72 54.6 284C54.93 283.28 55.32 282.78 55.8 282.7C56.28 282.62 56.88 283.2 57.5 283.5C58.12 283.8 58.83 284.45 59.5 284.5C60.17 284.55 60.88 284 61.5 283.8C62.12 283.6 62.28 283.43 63.2 283.3C64.12 283.17 65.78 283.1 67 283C68.22 282.9 69.25 282.8 70.5 282.7C71.75 282.6 73.48 282.48 74.5 282.4C75.52 282.32 76.05 282.33 76.6 282.2C77.15 282.07 77.43 281.93 77.8 281.6C78.17 281.27 78.5 280.83 78.8 280.2C79.1 279.57 79.37 278.67 79.6 277.8C79.83 276.93 80.02 275.97 80.2 275C80.38 274.03 80.52 273 80.7 272C80.88 271 81.1 269.92 81.3 269C81.5 268.08 81.72 267.3 81.9 266.5C82.08 265.7 82.23 264.98 82.4 264.2C82.57 263.42 82.73 262.57 82.9 261.8C83.07 261.03 83.22 260.15 83.4 259.6C83.58 259.05 83.78 258.55 84 258.5C84.22 258.45 84.47 258.95 84.7 259.3C84.93 259.65 85.18 260.1 85.4 260.6C85.62 261.1 85.8 261.57 86 262.3C86.2 263.03 86.42 264.05 86.6 265C86.78 265.95 86.9 266.83 87.1 268C87.3 269.17 87.55 270.8 87.8 272C88.05 273.2 88.32 274.17 88.6 275.2C88.88 276.23 89.18 277.23 89.5 278.2C89.82 279.17 90.15 280.17 90.5 281C90.85 281.83 91.18 282.52 91.6 283.2C92.02 283.88 92.52 284.58 93 285.1C93.48 285.62 93.92 285.93 94.5 286.3C95.08 286.67 95.75 287.03 96.5 287.3C97.25 287.57 98.08 287.78 99 287.9C99.92 288.02 101 288 102 288C103 288 103.92 287.93 105 287.9C106.08 287.87 107.25 287.73 108.5 287.8C109.75 287.87 110.88 288.02 112.5 288.3C114.12 288.58 116.2 288.95 118.2 289.5C120.2 290.05 122.42 290.85 124.5 291.6C126.58 292.35 128.62 293.28 130.7 294C132.78 294.72 134.92 295.28 137 295.9C139.08 296.52 141.12 297.12 143.2 297.7C145.28 298.28 147.27 298.82 149.5 299.4C151.73 299.98 155.42 300.9 156.6 301.2" stroke="#000" stroke-width="1.95" stroke-linejoin="round"/>
<path d="M43.6 311.5C44.88 311 49.23 309.25 51.3 308.5C53.37 307.75 54.33 307.58 56 307C57.67 306.42 59.63 305.7 61.3 305C62.97 304.3 64.47 303.72 66 302.8C67.53 301.88 69.25 300.63 70.5 299.5C71.75 298.37 72.67 297.18 73.5 296C74.33 294.82 74.92 293.48 75.5 292.4C76.08 291.32 76.57 290.73 77 289.5C77.43 288.27 77.78 286.42 78.1 285C78.42 283.58 78.65 282.25 78.9 281C79.15 279.75 79.38 278.63 79.6 277.5C79.82 276.37 80 275.28 80.2 274.2C80.4 273.12 80.6 272.03 80.8 271C81 269.97 81.2 268.95 81.4 268C81.6 267.05 81.82 266.17 82 265.3C82.18 264.43 82.32 263.6 82.5 262.8C82.68 262 82.88 261.1 83.1 260.5C83.32 259.9 83.57 259.35 83.8 259.2C84.03 259.05 84.25 259.27 84.5 259.6C84.75 259.93 85.07 260.63 85.3 261.2C85.53 261.77 85.7 262.25 85.9 263C86.1 263.75 86.32 264.78 86.5 265.7C86.68 266.62 86.8 267.37 87 268.5C87.2 269.63 87.45 271.28 87.7 272.5C87.95 273.72 88.22 274.73 88.5 275.8C88.78 276.87 89.08 277.9 89.4 278.9C89.72 279.9 90.05 280.95 90.4 281.8C90.75 282.65 91.07 283.3 91.5 284C91.93 284.7 92.5 285.47 93 286C93.5 286.53 93.92 286.82 94.5 287.2C95.08 287.58 95.75 288.02 96.5 288.3C97.25 288.58 98.08 288.77 99 288.9C99.92 289.03 101 289.08 102 289.1C103 289.12 103.92 289.03 105 289C106.08 288.97 107.25 288.87 108.5 288.9C109.75 288.93 110.88 288.97 112.5 289.2C114.12 289.43 116.2 289.72 118.2 290.3C120.2 290.88 122.42 291.85 124.5 292.7C126.58 293.55 128.62 294.52 130.7 295.4C132.78 296.28 134.92 297.13 137 298C139.08 298.87 141.12 299.82 143.2 300.6C145.28 301.38 147.27 302.03 149.5 302.7C151.73 303.37 155.42 304.28 156.6 304.6" stroke="#000" stroke-width="1.8" stroke-dasharray="4.4 1.5"/>
<path d="M43.6 312.72 L44 312.72 L44.4 312.72 L44.8 312.72 L45.2 312.71 L45.6 312.71 L46 312.71 L46.4 312.71 L46.8 312.71 L47.2 312.71 L47.6 312.7 L48 312.7 L48.4 312.7 L48.8 312.7 L49.2 312.69 L49.6 312.69 L50 312.69 L50.4 312.69 L50.8 312.68 L51.2 312.68 L51.6 312.68 L52 312.68 L52.4 312.67 L52.8 312.67 L53.2 312.67 L53.6 312.66 L54 312.66 L54.4 312.65 L54.8 312.65 L55.2 312.65 L55.6 312.64 L56 312.64 L56.4 312.63 L56.8 312.63 L57.2 312.62 L57.6 312.62 L58 312.61 L58.4 312.61 L58.8 312.6 L59.2 312.59 L59.6 312.59 L60 312.58 L60.4 312.57 L60.8 312.57 L61.2 312.56 L61.6 312.55 L62 312.54 L62.4 312.53 L62.8 312.52 L63.2 312.51 L63.6 312.5 L64 312.49 L64.4 312.48 L64.8 312.46 L65.2 312.45 L65.6 312.44 L66 312.42 L66.4 312.4 L66.8 312.39 L67.2 312.37 L67.6 312.35 L68 312.33 L68.4 312.3 L68.8 312.28 L69.2 312.25 L69.6 312.22 L70 312.18 L70.4 312.14 L70.8 312.1 L71.2 312.05 L71.6 311.98 L72 311.91 L72.4 311.82 L72.8 311.7 L73.2 311.56 L73.6 311.39 L74 311.17 L74.4 310.89 L74.8 310.55 L75.2 310.13 L75.6 309.61 L76 308.97 L76.4 308.21 L76.8 307.29 L77.2 306.22 L77.6 304.97 L78 303.53 L78.4 301.9 L78.8 300.09 L79.2 298.09 L79.6 295.94 L80 293.66 L80.4 291.28 L80.8 288.85 L81.2 286.43 L81.6 284.09 L82 281.89 L82.4 279.91 L82.8 278.23 L83.2 276.93 L83.6 276.07 L84 275.69 L84.4 275.82 L84.8 276.44 L85.2 277.53 L85.6 279.03 L86 280.87 L86.4 282.96 L86.8 285.24 L87.2 287.64 L87.6 290.07 L88 292.48 L88.4 294.81 L88.8 297.04 L89.2 299.11 L89.6 301.02 L90 302.74 L90.4 304.27 L90.8 305.62 L91.2 306.78 L91.6 307.77 L92 308.61 L92.4 309.3 L92.8 309.88 L93.2 310.35 L93.6 310.73 L94 311.04 L94.4 311.28 L94.8 311.48 L95.2 311.64 L95.6 311.76 L96 311.86 L96.4 311.95 L96.8 312.02 L97.2 312.07 L97.6 312.12 L98 312.16 L98.4 312.2 L98.8 312.23 L99.2 312.26 L99.6 312.29 L100 312.31 L100.4 312.34 L100.8 312.36 L101.2 312.38 L101.6 312.4 L102 312.41 L102.4 312.43 L102.8 312.44 L103.2 312.46 L103.6 312.47 L104 312.48 L104.4 312.5 L104.8 312.51 L105.2 312.52 L105.6 312.53 L106 312.54 L106.4 312.55 L106.8 312.55 L107.2 312.56 L107.6 312.57 L108 312.58 L108.4 312.58 L108.8 312.59 L109.2 312.6 L109.6 312.6 L110 312.61 L110.4 312.62 L110.8 312.62 L111.2 312.63 L111.6 312.63 L112 312.64 L112.4 312.64 L112.8 312.64 L113.2 312.65 L113.6 312.65 L114 312.66 L114.4 312.66 L114.8 312.66 L115.2 312.67 L115.6 312.67 L116 312.67 L116.4 312.68 L116.8 312.68 L117.2 312.68 L117.6 312.69 L118 312.69 L118.4 312.69 L118.8 312.69 L119.2 312.7 L119.6 312.7 L120 312.7 L120.4 312.7 L120.8 312.7 L121.2 312.71 L121.6 312.71 L122 312.71 L122.4 312.71 L122.8 312.71 L123.2 312.72 L123.6 312.72 L124 312.72 L124.4 312.72 L124.8 312.72 L125.2 312.72 L125.6 312.72 L126 312.73 L126.4 312.73 L126.8 312.73 L127.2 312.73 L127.6 312.73 L128 312.73 L128.4 312.73 L128.8 312.74 L129.2 312.74 L129.6 312.74 L130 312.74 L130.4 312.74 L130.8 312.74 L131.2 312.74 L131.6 312.74 L132 312.74 L132.4 312.74 L132.8 312.75 L133.2 312.75 L133.6 312.75 L134 312.75 L134.4 312.75 L134.8 312.75 L135.2 312.75 L135.6 312.75 L136 312.75 L136.4 312.75 L136.8 312.75 L137.2 312.75 L137.6 312.75 L138 312.76 L138.4 312.76 L138.8 312.76 L139.2 312.76 L139.6 312.76 L140 312.76 L140.4 312.76 L140.8 312.76 L141.2 312.76 L141.6 312.76 L142 312.76 L142.4 312.76 L142.8 312.76 L143.2 312.76 L143.6 312.76 L144 312.76 L144.4 312.76 L144.8 312.76 L145.2 312.77 L145.6 312.77 L146 312.77 L146.4 312.77 L146.8 312.77 L147.2 312.77 L147.6 312.77 L148 312.77 L148.4 312.77 L148.8 312.77 L149.2 312.77 L149.6 312.77 L150 312.77 L150.4 312.77 L150.8 312.77 L151.2 312.77 L151.6 312.77 L152 312.77 L152.4 312.77 L152.8 312.77 L153.2 312.77 L153.6 312.77 L154 312.77 L154.4 312.77 L154.8 312.77 L155.2 312.77 L155.6 312.77 L156 312.77 L156.4 312.78 L156.8 312.78" stroke="#0a66f2" stroke-width="1.8" stroke-dasharray="1.45 1.45"/>
<path d="M43.6 312.79 L44 312.79 L44.4 312.79 L44.8 312.79 L45.2 312.79 L45.6 312.79 L46 312.79 L46.4 312.79 L46.8 312.79 L47.2 312.79 L47.6 312.79 L48 312.79 L48.4 312.79 L48.8 312.79 L49.2 312.79 L49.6 312.79 L50 312.79 L50.4 312.79 L50.8 312.79 L51.2 312.79 L51.6 312.79 L52 312.79 L52.4 312.79 L52.8 312.79 L53.2 312.79 L53.6 312.79 L54 312.79 L54.4 312.79 L54.8 312.79 L55.2 312.79 L55.6 312.79 L56 312.79 L56.4 312.79 L56.8 312.79 L57.2 312.79 L57.6 312.79 L58 312.79 L58.4 312.79 L58.8 312.79 L59.2 312.78 L59.6 312.78 L60 312.78 L60.4 312.78 L60.8 312.78 L61.2 312.78 L61.6 312.78 L62 312.78 L62.4 312.78 L62.8 312.78 L63.2 312.78 L63.6 312.78 L64 312.78 L64.4 312.78 L64.8 312.78 L65.2 312.78 L65.6 312.78 L66 312.78 L66.4 312.77 L66.8 312.77 L67.2 312.77 L67.6 312.77 L68 312.77 L68.4 312.77 L68.8 312.77 L69.2 312.77 L69.6 312.77 L70 312.76 L70.4 312.76 L70.8 312.76 L71.2 312.76 L71.6 312.76 L72 312.76 L72.4 312.75 L72.8 312.75 L73.2 312.75 L73.6 312.75 L74 312.74 L74.4 312.74 L74.8 312.73 L75.2 312.73 L75.6 312.72 L76 312.71 L76.4 312.7 L76.8 312.69 L77.2 312.68 L77.6 312.67 L78 312.66 L78.4 312.64 L78.8 312.62 L79.2 312.6 L79.6 312.57 L80 312.55 L80.4 312.52 L80.8 312.48 L81.2 312.45 L81.6 312.41 L82 312.36 L82.4 312.32 L82.8 312.27 L83.2 312.22 L83.6 312.16 L84 312.1 L84.4 312.04 L84.8 311.98 L85.2 311.92 L85.6 311.85 L86 311.79 L86.4 311.73 L86.8 311.67 L87.2 311.62 L87.6 311.56 L88 311.52 L88.4 311.48 L88.8 311.45 L89.2 311.42 L89.6 311.41 L90 311.4 L90.4 311.41 L90.8 311.42 L91.2 311.45 L91.6 311.48 L92 311.52 L92.4 311.56 L92.8 311.62 L93.2 311.67 L93.6 311.73 L94 311.79 L94.4 311.85 L94.8 311.92 L95.2 311.98 L95.6 312.04 L96 312.1 L96.4 312.16 L96.8 312.22 L97.2 312.27 L97.6 312.32 L98 312.36 L98.4 312.41 L98.8 312.45 L99.2 312.48 L99.6 312.52 L100 312.55 L100.4 312.57 L100.8 312.6 L101.2 312.62 L101.6 312.64 L102 312.66 L102.4 312.67 L102.8 312.68 L103.2 312.69 L103.6 312.7 L104 312.71 L104.4 312.72 L104.8 312.73 L105.2 312.73 L105.6 312.74 L106 312.74 L106.4 312.75 L106.8 312.75 L107.2 312.75 L107.6 312.75 L108 312.76 L108.4 312.76 L108.8 312.76 L109.2 312.76 L109.6 312.76 L110 312.76 L110.4 312.77 L110.8 312.77 L111.2 312.77 L111.6 312.77 L112 312.77 L112.4 312.77 L112.8 312.77 L113.2 312.77 L113.6 312.77 L114 312.78 L114.4 312.78 L114.8 312.78 L115.2 312.78 L115.6 312.78 L116 312.78 L116.4 312.78 L116.8 312.78 L117.2 312.78 L117.6 312.78 L118 312.78 L118.4 312.78 L118.8 312.78 L119.2 312.78 L119.6 312.78 L120 312.78 L120.4 312.78 L120.8 312.78 L121.2 312.79 L121.6 312.79 L122 312.79 L122.4 312.79 L122.8 312.79 L123.2 312.79 L123.6 312.79 L124 312.79 L124.4 312.79 L124.8 312.79 L125.2 312.79 L125.6 312.79 L126 312.79 L126.4 312.79 L126.8 312.79 L127.2 312.79 L127.6 312.79 L128 312.79 L128.4 312.79 L128.8 312.79 L129.2 312.79 L129.6 312.79 L130 312.79 L130.4 312.79 L130.8 312.79 L131.2 312.79 L131.6 312.79 L132 312.79 L132.4 312.79 L132.8 312.79 L133.2 312.79 L133.6 312.79 L134 312.79 L134.4 312.79 L134.8 312.79 L135.2 312.79 L135.6 312.79 L136 312.79 L136.4 312.79 L136.8 312.79 L137.2 312.79 L137.6 312.79 L138 312.79 L138.4 312.79 L138.8 312.79 L139.2 312.79 L139.6 312.79 L140 312.79 L140.4 312.79 L140.8 312.79 L141.2 312.79 L141.6 312.79 L142 312.79 L142.4 312.79 L142.8 312.79 L143.2 312.79 L143.6 312.79 L144 312.79 L144.4 312.79 L144.8 312.8 L145.2 312.8 L145.6 312.8 L146 312.8 L146.4 312.8 L146.8 312.8 L147.2 312.8 L147.6 312.8 L148 312.8 L148.4 312.8 L148.8 312.8 L149.2 312.8 L149.6 312.8 L150 312.8 L150.4 312.8 L150.8 312.8 L151.2 312.8 L151.6 312.8 L152 312.8 L152.4 312.8 L152.8 312.8 L153.2 312.8 L153.6 312.8 L154 312.8 L154.4 312.8 L154.8 312.8 L155.2 312.8 L155.6 312.8 L156 312.8 L156.4 312.8 L156.8 312.8" stroke="#ff0018" stroke-width="1.8" stroke-dasharray="5.8 4.3"/>
<path d="M43.6 310.27 L44 310.23 L44.4 310.17 L44.8 310.12 L45.2 310.07 L45.6 310.02 L46 309.96 L46.4 309.9 L46.8 309.84 L47.2 309.78 L47.6 309.72 L48 309.66 L48.4 309.6 L48.8 309.53 L49.2 309.46 L49.6 309.39 L50 309.32 L50.4 309.25 L50.8 309.18 L51.2 309.1 L51.6 309.02 L52 308.95 L52.4 308.86 L52.8 308.78 L53.2 308.7 L53.6 308.61 L54 308.53 L54.4 308.44 L54.8 308.34 L55.2 308.25 L55.6 308.16 L56 308.06 L56.4 307.96 L56.8 307.86 L57.2 307.76 L57.6 307.65 L58 307.54 L58.4 307.43 L58.8 307.32 L59.2 307.21 L59.6 307.1 L60 306.98 L60.4 306.86 L60.8 306.74 L61.2 306.61 L61.6 306.49 L62 306.36 L62.4 306.23 L62.8 306.1 L63.2 305.96 L63.6 305.83 L64 305.69 L64.4 305.55 L64.8 305.41 L65.2 305.26 L65.6 305.11 L66 304.96 L66.4 304.81 L66.8 304.66 L67.2 304.5 L67.6 304.34 L68 304.18 L68.4 304.02 L68.8 303.86 L69.2 303.69 L69.6 303.52 L70 303.35 L70.4 303.18 L70.8 303.01 L71.2 302.83 L71.6 302.65 L72 302.47 L72.4 302.29 L72.8 302.11 L73.2 301.92 L73.6 301.74 L74 301.55 L74.4 301.36 L74.8 301.17 L75.2 300.97 L75.6 300.78 L76 300.58 L76.4 300.38 L76.8 300.18 L77.2 299.98 L77.6 299.78 L78 299.58 L78.4 299.37 L78.8 299.17 L79.2 298.96 L79.6 298.75 L80 298.55 L80.4 298.34 L80.8 298.13 L81.2 297.92 L81.6 297.71 L82 297.5 L82.4 297.28 L82.8 297.07 L83.2 296.86 L83.6 296.65 L84 296.44 L84.4 296.22 L84.8 296.01 L85.2 295.8 L85.6 295.59 L86 295.38 L86.4 295.17 L86.8 294.96 L87.2 294.75 L87.6 294.54 L88 294.34 L88.4 294.13 L88.8 293.93 L89.2 293.73 L89.6 293.53 L90 293.33 L90.4 293.13 L90.8 292.94 L91.2 292.74 L91.6 292.55 L92 292.36 L92.4 292.18 L92.8 291.99 L93.2 291.81 L93.6 291.64 L94 291.46 L94.4 291.29 L94.8 291.13 L95.2 290.96 L95.6 290.8 L96 290.65 L96.4 290.49 L96.8 290.35 L97.2 290.2 L97.6 290.06 L98 289.93 L98.4 289.8 L98.8 289.67 L99.2 289.55 L99.6 289.44 L100 289.33 L100.4 289.22 L100.8 289.12 L101.2 289.03 L101.6 288.94 L102 288.86 L102.4 288.79 L102.8 288.72 L103.2 288.65 L103.6 288.59 L104 288.54 L104.4 288.5 L104.8 288.46 L105.2 288.43 L105.6 288.4 L106 288.38 L106.4 288.37 L106.8 288.36 L107.2 288.36 L107.6 288.37 L108 288.38 L108.4 288.39 L108.8 288.41 L109.2 288.43 L109.6 288.46 L110 288.5 L110.4 288.53 L110.8 288.58 L111.2 288.63 L111.6 288.68 L112 288.73 L112.4 288.8 L112.8 288.86 L113.2 288.93 L113.6 289.01 L114 289.08 L114.4 289.17 L114.8 289.25 L115.2 289.34 L115.6 289.44 L116 289.54 L116.4 289.64 L116.8 289.75 L117.2 289.86 L117.6 289.97 L118 290.09 L118.4 290.21 L118.8 290.33 L119.2 290.46 L119.6 290.59 L120 290.72 L120.4 290.86 L120.8 291 L121.2 291.14 L121.6 291.28 L122 291.43 L122.4 291.58 L122.8 291.73 L123.2 291.88 L123.6 292.04 L124 292.2 L124.4 292.36 L124.8 292.52 L125.2 292.68 L125.6 292.85 L126 293.01 L126.4 293.18 L126.8 293.35 L127.2 293.52 L127.6 293.7 L128 293.87 L128.4 294.05 L128.8 294.22 L129.2 294.4 L129.6 294.58 L130 294.76 L130.4 294.93 L130.8 295.11 L131.2 295.3 L131.6 295.48 L132 295.66 L132.4 295.84 L132.8 296.02 L133.2 296.2 L133.6 296.39 L134 296.57 L134.4 296.75 L134.8 296.93 L135.2 297.12 L135.6 297.3 L136 297.48 L136.4 297.66 L136.8 297.85 L137.2 298.03 L137.6 298.21 L138 298.39 L138.4 298.57 L138.8 298.75 L139.2 298.92 L139.6 299.1 L140 299.28 L140.4 299.46 L140.8 299.63 L141.2 299.81 L141.6 299.98 L142 300.15 L142.4 300.32 L142.8 300.5 L143.2 300.67 L143.6 300.83 L144 301 L144.4 301.17 L144.8 301.33 L145.2 301.5 L145.6 301.66 L146 301.82 L146.4 301.98 L146.8 302.14 L147.2 302.3 L147.6 302.46 L148 302.61 L148.4 302.77 L148.8 302.92 L149.2 303.07 L149.6 303.22 L150 303.37 L150.4 303.51 L150.8 303.66 L151.2 303.8 L151.6 303.94 L152 304.08 L152.4 304.22 L152.8 304.36 L153.2 304.5 L153.6 304.63 L154 304.76 L154.4 304.89 L154.8 305.02 L155.2 305.15 L155.6 305.28 L156 305.4 L156.4 305.53 L156.8 305.65" stroke="#3fb80c" stroke-width="1.8" stroke-dasharray="11.5 4.3"/>
</g>
<text x="52.6" y="328.8" font-size="10" text-anchor="middle">3750</text>
<text x="87.3" y="328.8" font-size="10" text-anchor="middle">3600</text>
<text x="121.9" y="328.8" font-size="10" text-anchor="middle">3450</text>
<text x="156.6" y="328.8" font-size="10" text-anchor="middle">3300</text>
<text x="55.5" y="345.7" font-size="10" text-anchor="start" textLength="90.5" lengthAdjust="spacing">Wavenumber (cm<tspan font-size="6" dy="-4">-1</tspan><tspan dy="4">)</tspan></text>
<path d="M91.2 226.0H111.8" stroke="#000" stroke-width="2.1"/>
<path d="M91.2 236.4H111.8" stroke="#000" stroke-width="1.8" stroke-dasharray="4.4 1.5"/>
<path d="M91.2 246.7H111.8" stroke="#0a66f2" stroke-width="1.8" stroke-dasharray="1.45 1.45"/>
<path d="M91.2 257.0H111.8" stroke="#ff0018" stroke-width="1.8" stroke-dasharray="5.8 4.3"/>
<path d="M91.2 267.3H111.8" stroke="#3fb80c" stroke-width="1.8" stroke-dasharray="11.5 4.3"/>
<text x="114.5" y="228.95" font-size="8.8" text-anchor="start">measured</text>
<text x="114.5" y="239.35" font-size="8.8" text-anchor="start">fit</text>
<text x="114.5" y="249.65" font-size="8.8" text-anchor="start">3612 cm<tspan font-size="5.4" dy="-3.4">-1</tspan></text>
<text x="114.5" y="259.95" font-size="8.8" text-anchor="start">3590 cm<tspan font-size="5.4" dy="-3.4">-1</tspan></text>
<text x="114.5" y="270.25" font-size="8.8" text-anchor="start">3500 cm<tspan font-size="5.4" dy="-3.4">-1</tspan></text>
<path d="M220.1 6.6H353.9" stroke="#3a3a3a" stroke-width="1.3"/>
<path d="M353.9 6.6V266.6" stroke="#6e6e6e" stroke-width="1.3"/>
<path d="M220.1 6.6V269.6" stroke="#5f8383" stroke-width="1.1"/>
<path d="M217.1 266.6H353.9" stroke="#5f8383" stroke-width="1.1"/>
<path d="M217.1 266.6H220.1" stroke="#5f8383" stroke-width="1"/>
<text x="211.6" y="270.8" font-size="10" text-anchor="end">0</text>
<path d="M217.1 248.03H220.1" stroke="#5f8383" stroke-width="1"/>
<path d="M217.1 229.46H220.1" stroke="#5f8383" stroke-width="1"/>
<text x="211.6" y="233.66" font-size="10" text-anchor="end">200</text>
<path d="M217.1 210.89H220.1" stroke="#5f8383" stroke-width="1"/>
<path d="M217.1 192.31H220.1" stroke="#5f8383" stroke-width="1"/>
<text x="211.6" y="196.51" font-size="10" text-anchor="end">400</text>
<path d="M217.1 173.74H220.1" stroke="#5f8383" stroke-width="1"/>
<path d="M217.1 155.17H220.1" stroke="#5f8383" stroke-width="1"/>
<text x="211.6" y="159.37" font-size="10" text-anchor="end">600</text>
<path d="M217.1 136.6H220.1" stroke="#5f8383" stroke-width="1"/>
<path d="M217.1 118.03H220.1" stroke="#5f8383" stroke-width="1"/>
<text x="211.6" y="122.23" font-size="10" text-anchor="end">800</text>
<path d="M217.1 99.46H220.1" stroke="#5f8383" stroke-width="1"/>
<path d="M217.1 80.89H220.1" stroke="#5f8383" stroke-width="1"/>
<text x="211.6" y="85.09" font-size="10" text-anchor="end">1000</text>
<path d="M217.1 62.31H220.1" stroke="#5f8383" stroke-width="1"/>
<path d="M217.1 43.74H220.1" stroke="#5f8383" stroke-width="1"/>
<text x="211.6" y="47.94" font-size="10" text-anchor="end">1200</text>
<path d="M217.1 25.17H220.1" stroke="#5f8383" stroke-width="1"/>
<path d="M217.1 6.6H220.1" stroke="#5f8383" stroke-width="1"/>
<text x="211.6" y="10.8" font-size="10" text-anchor="end">1400</text>
<path d="M220.1 266.6V269.6" stroke="#5f8383" stroke-width="1"/>
<text x="220.1" y="282.8" font-size="10" text-anchor="middle">0</text>
<path d="M246.86 266.6V269.6" stroke="#5f8383" stroke-width="1"/>
<text x="246.86" y="282.8" font-size="10" text-anchor="middle">100</text>
<path d="M273.62 266.6V269.6" stroke="#5f8383" stroke-width="1"/>
<text x="273.62" y="282.8" font-size="10" text-anchor="middle">200</text>
<path d="M300.38 266.6V269.6" stroke="#5f8383" stroke-width="1"/>
<text x="300.38" y="282.8" font-size="10" text-anchor="middle">300</text>
<path d="M327.14 266.6V269.6" stroke="#5f8383" stroke-width="1"/>
<text x="327.14" y="282.8" font-size="10" text-anchor="middle">400</text>
<path d="M353.9 266.6V269.6" stroke="#5f8383" stroke-width="1"/>
<text x="353.9" y="282.8" font-size="10" text-anchor="middle">500</text>
<text x="226.3" y="298.7" font-size="10" text-anchor="start" textLength="125" lengthAdjust="spacing">Cu concentration (<tspan font-style="italic">&#956;</tspan>mol g<tspan font-size="6" dy="-4">-1</tspan><tspan dy="4">)</tspan></text>
<text transform="translate(177.6 135.3) rotate(-90)" font-size="10" text-anchor="middle" textLength="124.5" lengthAdjust="spacing">Na concentration (<tspan font-style="italic">&#956;</tspan>mol g<tspan font-size="6" dy="-4">-1</tspan><tspan dy="4">)</tspan></text>
<text x="228.9" y="20.6" font-size="10" text-anchor="start">d</text>
<path d="M219.99 53.04L353.9 241.85" stroke="#000" stroke-width="2.3" stroke-dasharray="0 4.33" stroke-linecap="round"/>
<path d="M220.1 90.2L353.9 203.0" stroke="#000" stroke-width="2.5"/>
<rect x="216.4" y="52.1" width="7" height="7" fill="#fff" stroke="#000" stroke-width="1.4"/>
<rect x="244.1" y="68.6" width="7" height="7" fill="#fff" stroke="#000" stroke-width="1.4"/>
<rect x="278.6" y="129.8" width="7" height="7" fill="#fff" stroke="#000" stroke-width="1.4"/>
<rect x="303.5" y="182.8" width="7" height="7" fill="#fff" stroke="#000" stroke-width="1.4"/>
<rect x="323.8" y="194.2" width="7" height="7" fill="#fff" stroke="#000" stroke-width="1.4"/>
<rect x="340.3" y="210.2" width="7" height="7" fill="#fff" stroke="#000" stroke-width="1.4"/>
<rect x="215.9" y="77.8" width="8.4" height="8.4" fill="#000"/>
<rect x="256" y="117.8" width="8.4" height="8.4" fill="#000"/>
<rect x="287.1" y="147.7" width="8.4" height="8.4" fill="#000"/>
<rect x="345.6" y="202.1" width="8.4" height="8.4" fill="#000"/>
<rect x="226.8" y="234.5" width="7" height="7" fill="#fff" stroke="#000" stroke-width="1.4"/>
<rect x="226.3" y="253.5" width="8.4" height="8.4" fill="#000"/>
<text x="237.2" y="242" font-size="10" text-anchor="start">pH 4.4</text>
<text x="249" y="55.2" font-size="10" text-anchor="start" textLength="38.2" lengthAdjust="spacing">m = -2.2</text>
<path d="M264.2 59.8V94" stroke="#000" stroke-width="1.6" stroke-dasharray="1.1 1.0"/>
<path d="M259.8 93.6L268.6 93.6L264.2 102.7Z" fill="#000"/>
<text x="225.5" y="164.3" font-size="10" text-anchor="start" textLength="38.2" lengthAdjust="spacing">m = -1.2</text>
<path d="M241.25 121V154.1" stroke="#000" stroke-width="1.8"/>
<path d="M236.8 121.7L245.9 121.7L241.3 112.2Z" fill="#000"/>
</svg>
</body></html>
